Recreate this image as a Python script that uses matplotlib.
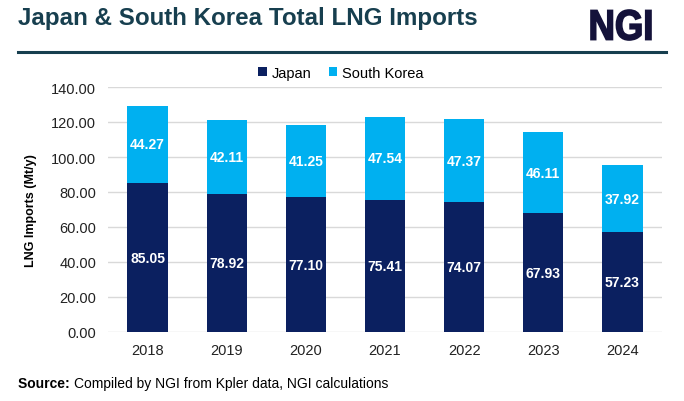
import matplotlib.pyplot as plt
from matplotlib.lines import Line2D
from matplotlib.patches import PathPatch
from matplotlib.textpath import TextPath
from matplotlib.font_manager import FontProperties
from matplotlib.transforms import Affine2D, IdentityTransform

years = ["2018", "2019", "2020", "2021", "2022", "2023", "2024"]
japan = [85.05, 78.92, 77.10, 75.41, 74.07, 67.93, 57.23]
south_korea = [44.27, 42.11, 41.25, 47.54, 47.37, 46.11, 37.92]

NAVY = "#0b2060"
SKY = "#00b0f0"
TEAL = "#173f4f"

plt.rcParams["font.family"] = ["Liberation Sans", "DejaVu Sans"]

fig = plt.figure(figsize=(6.84, 4.02), dpi=100)
ax = fig.add_axes([108 / 684, 1 - 333 / 402, (662 - 108) / 684, (333 - 88) / 402])

x = range(len(years))
ax.bar(x, japan, width=0.51, color=NAVY, label="Japan", zorder=3)
ax.bar(x, south_korea, width=0.51, bottom=japan, color=SKY, label="South Korea", zorder=3)

for i, (j, k) in enumerate(zip(japan, south_korea)):
    ax.text(i, j / 2, f"{j:.2f}", ha="center", va="center", color="white",
            fontsize=10, fontweight="bold", zorder=4)
    ax.text(i, j + k / 2, f"{k:.2f}", ha="center", va="center", color="white",
            fontsize=10, fontweight="bold", zorder=4)

ax.set_xlim(-0.5, len(years) - 0.5)
ax.set_ylim(0, 140)
ax.set_yticks(range(0, 141, 20))
ax.set_yticklabels([f"{v:.2f}" for v in range(0, 141, 20)])
ax.set_xticks(list(x))
ax.set_xticklabels(years)
ax.tick_params(axis="both", length=0, labelsize=10.5, colors="#222222")
ax.tick_params(axis="y", pad=8.5)
ax.tick_params(axis="x", pad=8)
ax.grid(axis="y", color="#d9d9d9", linewidth=1, zorder=0)
for s in ax.spines.values():
    s.set_visible(False)
ax.set_ylabel("LNG Imports (Mt/y)", fontsize=9, fontweight="bold", labelpad=10)

ax.legend(loc="lower center", bbox_to_anchor=(0.42, 1.0), ncol=2, frameon=False,
          fontsize=10.5, handlelength=0.6, handleheight=0.6, handletextpad=0.3,
          columnspacing=1.2, borderaxespad=0.1)

fig.text(18 / 684, 1 - 19 / 402, "Japan & South Korea Total LNG Imports",
         fontsize=17.4, fontweight="bold", color=TEAL, va="center", ha="left")

# condensed "NGI" logo: squeeze a text path into the logo box (pixels)
logo = TextPath((0, 0), "NGI", size=40, prop=FontProperties(family="Liberation Sans", weight="bold"))
ext = logo.get_extents()
x0, x1, y0, y1 = 591, 651, 402 - 41, 402 - 11
sx = (x1 - x0) / ext.width
sy = (y1 - y0) / ext.height
tr = Affine2D().translate(-ext.x0, -ext.y0).scale(sx, sy).translate(x0, y0)
fig.add_artist(PathPatch(tr.transform_path(logo), facecolor="#14123a", edgecolor="#14123a",
                         linewidth=1.2, transform=IdentityTransform()))

fig.add_artist(Line2D([18 / 684, 666 / 684], [1 - 53 / 402] * 2,
                      color=TEAL, linewidth=2.2, transform=fig.transFigure))

src = fig.text(18 / 684, 1 - 384 / 402, "Source: ", fontsize=10, fontweight="bold",
               va="center", ha="left")
fig.canvas.draw()
bb = src.get_window_extent(renderer=fig.canvas.get_renderer())
fig.text(bb.x1 / fig.bbox.width, 1 - 384 / 402,
         "Compiled by NGI from Kpler data, NGI calculations",
         fontsize=10, va="center", ha="left")

fig.savefig("out.png", dpi=100)
